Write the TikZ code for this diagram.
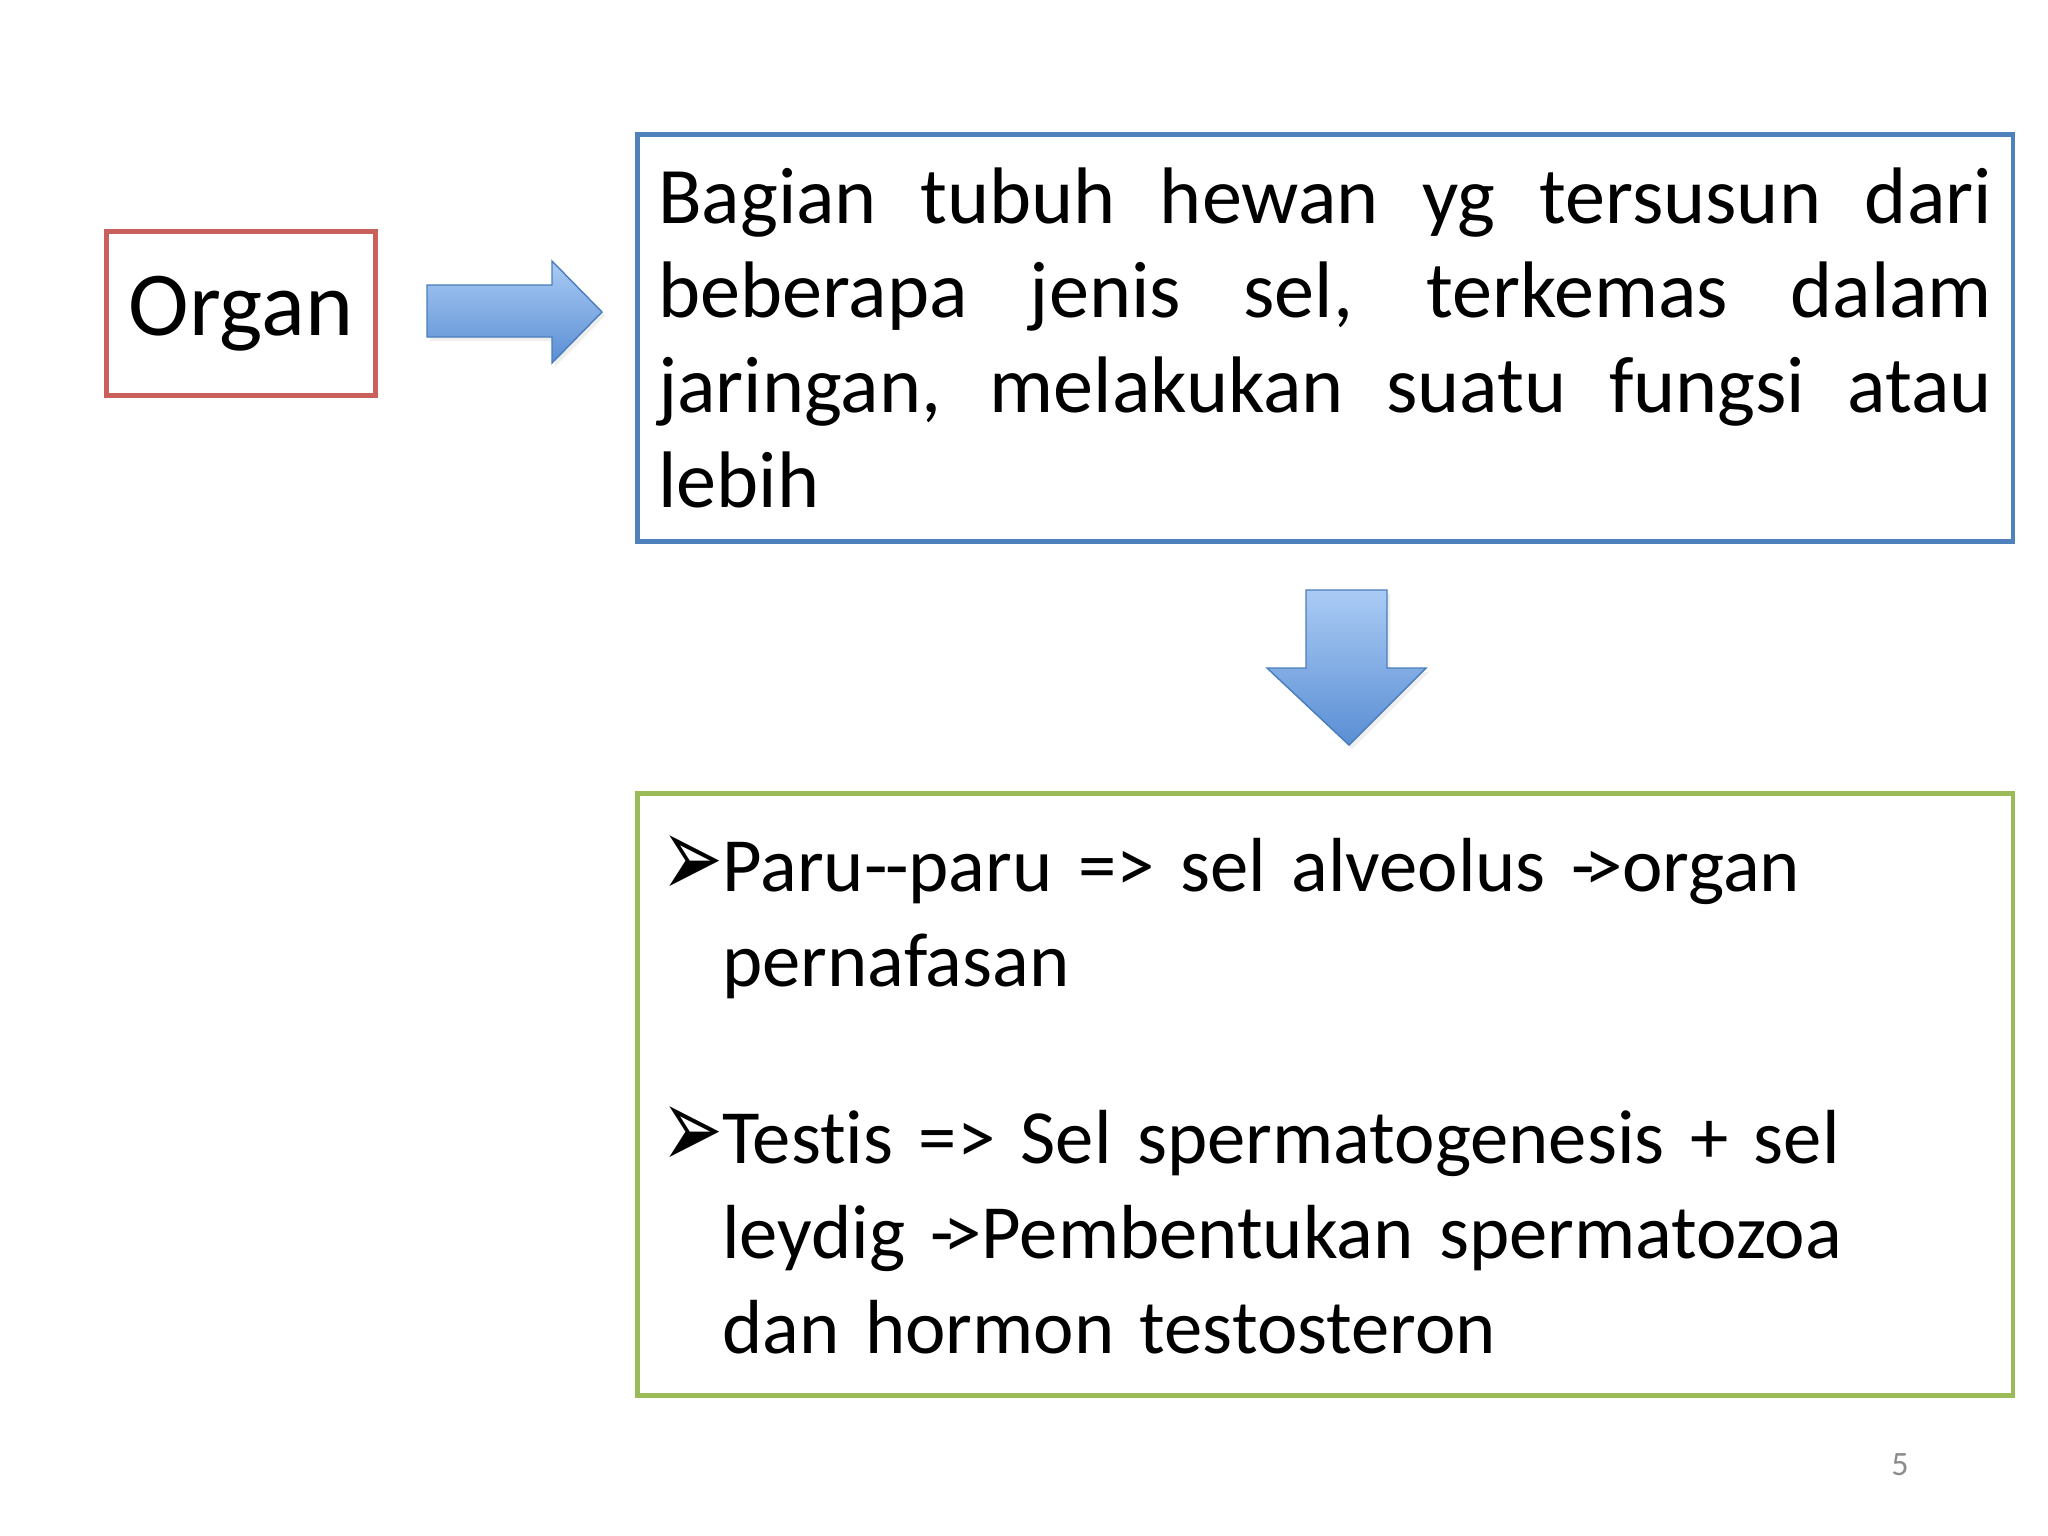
\documentclass[tikz,border=0pt]{standalone}
\usepackage{fontspec}
\usepackage{graphicx}
\setmainfont{Carlito}[Ligatures={TeX,NoCommon}]
\newfontfamily\bulletfont{DejaVu Sans}
\usetikzlibrary{shadows}
\definecolor{boxred}{HTML}{C9605C}
\definecolor{boxblue}{HTML}{4F81BD}
\definecolor{boxgreen}{HTML}{9BBB59}
\definecolor{arrowedge}{HTML}{4A7EBB}
\definecolor{arrowtop}{HTML}{AACBF4}
\definecolor{arrowbottom}{HTML}{5A8ED4}
\definecolor{pagegray}{HTML}{8C8C8C}
\tikzset{
	frame/.style={draw, rectangle, line width=0.045cm, inner sep=0pt, anchor=north west},
	blockarrow/.style={draw=arrowedge, line width=0.4pt, top color=arrowtop, bottom color=arrowbottom,
		drop shadow={opacity=0.12, shadow xshift=0.03cm, shadow yshift=-0.04cm}}
}
\newcommand{\itembullet}{\makebox[0.61cm][l]{\raisebox{-1.5pt}{\scalebox{1.05}[1.65]{\bulletfont\fontsize{20pt}{27pt}\selectfont ➢}}}}
\newcommand{\itemtext}[1]{\itembullet\parbox[t]{12.6cm}{\raggedright #1}}
\newcommand{\toarrow}{-\kern-0.14em>}
\begin{document}
\begin{tikzpicture}[x=0.01cm, y=-0.01cm]
			\useasboundingbox[fill=white] (0,0) rectangle (2048,1536);
			
			%organ box
			\node at (104,229) [frame, draw=boxred, minimum width=2.69cm, minimum height=1.64cm,
				font=\fontsize{26pt}{30pt}\selectfont] (organ) {Organ};
			
			%definition box
			\node at (635,132) [frame, draw=boxblue, minimum width=13.75cm, minimum height=4.07cm,
				text width=13.33cm, inner xsep=0.21cm, align=justify,
				font=\fontsize{22.8pt}{27pt}\selectfont] (defn)
				{Bagian tubuh hewan yg tersusun dari\linebreak
				beberapa jenis sel, terkemas dalam\linebreak
				jaringan, melakukan suatu fungsi atau\linebreak
				lebih};
			
			%example box
			\node at (635,791) [frame, draw=boxgreen, minimum width=13.75cm, minimum height=6.02cm,
				text width=13.27cm, inner xsep=0.24cm, align=left,
				font=\fontsize{21.8pt}{27pt}\selectfont] (examples)
				{\itemtext{Paru-\kern-0.03em-paru => sel alveolus \toarrow organ\\
				pernafasan}\par
				\vspace{1.04cm}
				\itemtext{Testis => Sel spermatogenesis + sel\\
				leydig \toarrow Pembentukan spermatozoa\\
				dan hormon testosteron}\par
				\vskip 0.16cm};
			
			%block arrows
			\draw[blockarrow] (427,285) -- (552,285) -- (552,261) -- (602,312)
				-- (552,363) -- (552,337) -- (427,337) -- cycle;
			\draw[blockarrow] (1306,590) -- (1387,590) -- (1387,668) -- (1426,668)
				-- (1349,745) -- (1267,668) -- (1306,668) -- cycle;
			
			%page number
			\node at (1900,1465) [text=pagegray, font=\fontsize{9.7pt}{12pt}\selectfont] (pagenum) {5};
\end{tikzpicture}
\end{document}
